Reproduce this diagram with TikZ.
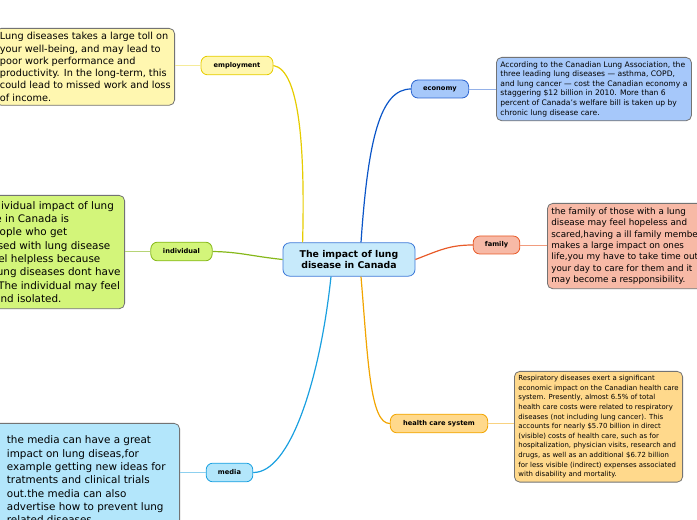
\documentclass[tikz,border=0pt]{standalone}
\usepackage{fontspec}
\setmainfont{DejaVu Sans}
\definecolor{ecof}{HTML}{A6C8FA}
\definecolor{ecob}{HTML}{2A64D0}
\definecolor{ecol}{HTML}{0A55C8}
\definecolor{famf}{HTML}{F7B9A6}
\definecolor{famd}{HTML}{E85A28}
\definecolor{hcf}{HTML}{FFD98C}
\definecolor{hcd}{HTML}{F2A500}
\definecolor{indf}{HTML}{D3F57A}
\definecolor{indd}{HTML}{86B81A}
\definecolor{medf}{HTML}{B3E6FB}
\definecolor{medd}{HTML}{1AA0E0}
\definecolor{empf}{HTML}{FFF7B0}
\definecolor{empd}{HTML}{E6CC00}
\definecolor{cenf}{HTML}{C7EAFB}
\definecolor{cend}{HTML}{3C78D8}
\begin{document}
\begin{tikzpicture}[x=0.75pt,y=-0.75pt,
 br/.style={rounded corners=5pt,draw,line width=0.6pt,font=\bfseries\fontsize{5}{6}\selectfont,inner sep=0pt},
 tb/.style={rounded corners=4pt,draw=black!55,line width=0.6pt,align=left,inner sep=3pt,anchor=north west},
 con/.style={line width=0.9pt},
 lk/.style={line width=0.5pt}]
\useasboundingbox (0,0) rectangle (697,520);
\begin{scope}
\clip (0,0) rectangle (697,520);
\node[br,font=\bfseries\fontsize{7}{8.5}\selectfont,fill=cenf,draw=cend,minimum width=99pt,minimum height=25pt,align=center] (c) at (349,259.5) {The impact of lung\\disease in Canada};
\node[br,fill=empf,draw=empd,minimum width=54pt,minimum height=14pt] (emp) at (237,65.5) {employment};
\node[br,fill=indf,draw=indd,minimum width=46pt,minimum height=14pt] (ind) at (181.5,251.5) {individual};
\node[br,fill=medf,draw=medd,minimum width=35pt,minimum height=14pt] (med) at (229.5,472.5) {media};
\node[br,fill=ecof,draw=ecob,minimum width=43pt,minimum height=13.5pt] (eco) at (440,89) {economy};
\node[br,fill=famf,draw=famd,minimum width=35pt,minimum height=13.5pt] (fam) at (496.5,245) {family};
\node[br,fill=hcf,draw=hcd,minimum width=73pt,minimum height=14pt] (hcs) at (439,423.5) {health care system};
\node[tb,fill=empf,font=\fontsize{7.3}{9.2}\selectfont,minimum height=56pt,anchor=north east] (empb) at (175,28) {Lung diseases takes a large toll on\\your well-being, and may lead to\\poor work performance and\\productivity. In the long-term, this\\could lead to missed work and loss\\of income.};
\node[tb,fill=indf,font=\fontsize{7.8}{10}\selectfont,minimum height=85pt,anchor=north east] (indb) at (125,195) {The individual impact of lung\\disease in Canada is\\that people who get\\diagnosed with lung disease\\may feel helpless because\\some lung diseases dont have\\cures. The individual may feel\\alone and isolated.};
\node[tb,fill=medf,font=\fontsize{7.8}{10}\selectfont,minimum height=85pt,minimum width=140pt,anchor=north east,inner ysep=1pt] (medb) at (180,423) {the media can have a great\\impact on lung diseas,for\\example getting new ideas for\\tratments and clinical trials\\out.the media can also\\advertise how to prevent lung\\related diseases};
\node[tb,fill=ecof,font=\fontsize{5.7}{7.2}\selectfont,minimum height=47pt] (ecobx) at (496,57) {According to the Canadian Lung Association, the\\three leading lung diseases — asthma, COPD,\\and lung cancer — cost the Canadian economy a\\staggering \$12 billion in 2010. More than 6\\percent of Canada's welfare bill is taken up by\\chronic lung disease care.};
\node[tb,fill=famf,font=\fontsize{6.6}{8.6}\selectfont,minimum height=64pt] (famb) at (547,203) {the family of those with a lung\\disease may feel hopeless and\\scared,having a ill family member\\makes a large impact on ones\\life,you my have to take time out\\your day to care for them and it\\may become a respponsibility.};
\node[tb,fill=hcf,font=\fontsize{5.2}{7.2}\selectfont,minimum height=79pt] (hcsb) at (514,371) {Respiratory diseases exert a significant\\economic impact on the Canadian health care\\system. Presently, almost 6.5\% of total\\health care costs were related to respiratory\\diseases (not including lung cancer). This\\accounts for nearly \$5.70 billion in direct\\(visible) costs of health care, such as for\\hospitalization, physician visits, research and\\drugs, as well as an additional \$6.72 billion\\for less visible (indirect) expenses associated\\with disability and mortality.};
\end{scope}
\draw[con,empd] (c.north west)++(20,0) .. controls (305,150) and (300,70) .. (emp.east);
\draw[con,ecol] (c.north)++(12,0) .. controls (368,140) and (380,89) .. (eco.west);
\draw[con,famd] (c.east) .. controls (440,250) and (450,245) .. (fam.west);
\draw[con,hcd] (c.south)++(12,0) .. controls (368,360) and (370,424) .. (hcs.west);
\draw[con,medd] (c.south)++(-18,0) .. controls (320,380) and (290,473) .. (med.east);
\draw[con,indd] (c.west) .. controls (250,256) and (240,252) .. (ind.east);
\draw[lk,empd!40] (emp.west) -- (empb.east|-emp.west);
\draw[lk,indd!60] (ind.west) -- (indb.east|-ind.west);
\draw[lk,medd!50] (med.west) -- (medb.east|-med.west);
\draw[lk,ecob!50] (eco.east) -- (ecobx.west|-eco.east);
\draw[lk,famd!60] (fam.east) -- (famb.west|-fam.east);
\draw[lk,hcd!50] (hcs.east) -- (hcsb.west|-hcs.east);
\end{tikzpicture}
\end{document}
